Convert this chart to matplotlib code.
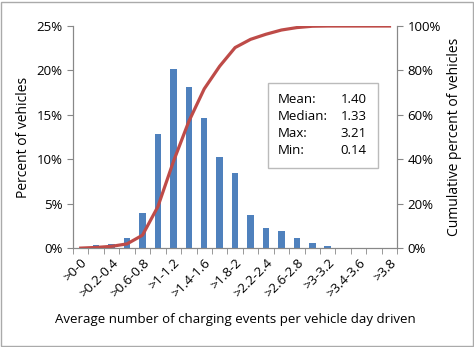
import matplotlib
matplotlib.use('Agg')
from matplotlib import pyplot as plt
from matplotlib.patches import Rectangle
import numpy as np

plt.rcParams['font.family'] = ['Open Sans', 'DejaVu Sans']

categories = ['>0-0', '>0-0.2', '>0.2-0.4', '>0.4-0.6', '>0.6-0.8', '>0.8-1',
              '>1-1.2', '>1.2-1.4', '>1.4-1.6', '>1.6-1.8', '>1.8-2', '>2-2.2',
              '>2.2-2.4', '>2.4-2.6', '>2.6-2.8', '>2.8-3', '>3-3.2',
              '>3.2-3.4', '>3.4-3.6', '>3.6-3.8', '>3.8']
# percent of vehicles per bin
pct_vehicles = [0.0, 0.3, 0.5, 1.1, 3.9, 12.9, 20.2, 18.1, 14.7, 10.2, 8.4,
                3.7, 2.3, 1.9, 1.1, 0.6, 0.2, 0.05, 0.0, 0.0, 0.0]
# cumulative percent of vehicles
cum_pct = [0.0, 0.3, 0.8, 1.9, 5.8, 18.7, 38.9, 57.0, 71.7, 81.9, 90.3,
           94.0, 96.3, 98.2, 99.3, 99.9, 100.0, 100.0, 100.0, 100.0, 100.0]
stats_names = ['Mean:', 'Median:', 'Max:', 'Min:']
stats_values = ['1.40', '1.33', '3.21', '0.14']

fig = plt.figure(figsize=(4.74, 3.47), dpi=100)
ax = fig.add_axes([0.154, 0.285, 0.684, 0.64])
x = np.arange(len(categories))

ax.bar(x, pct_vehicles, width=0.42, color='#4F81BD', zorder=2)
ax.set_xlim(-0.5, len(categories) - 0.5)
ax.set_ylim(0, 25)
ax.set_yticks(np.arange(0, 26, 5))
ax.set_yticklabels(['{}%'.format(v) for v in range(0, 26, 5)])
ax.set_xticks(x[::2])
ax.set_xticklabels(categories[::2], rotation=45, ha='right',
                   rotation_mode='anchor')
ax.set_xticks(np.arange(-0.5, len(categories), 1), minor=True)
ax.tick_params(axis='x', which='major', length=0, labelsize=9.5, pad=6)
ax.tick_params(axis='x', which='minor', length=4, color='#888888')
ax.tick_params(axis='y', labelsize=9.5, length=4, color='#888888')
ax.set_ylabel('Percent of vehicles', fontsize=10)
ax.set_xlabel('Average number of charging events per vehicle day driven',
              fontsize=9.5, labelpad=9)
for s in ax.spines.values():
    s.set_color('#888888')
ax.spines['top'].set_visible(False)

ax2 = ax.twinx()
ax2.plot(x, cum_pct, color='#BE4B48', lw=2.3, zorder=3)
ax2.set_ylim(0, 100)
ax2.set_yticks(np.arange(0, 101, 20))
ax2.set_yticklabels(['{}%'.format(v) for v in range(0, 101, 20)])
ax2.tick_params(axis='y', labelsize=9.5, length=4, color='#888888')
ax2.set_ylabel('Cumulative percent of vehicles', fontsize=10)
for s in ax2.spines.values():
    s.set_color('#888888')
ax2.spines['top'].set_visible(False)

# stats box
ax2.add_patch(Rectangle((0.60, 0.36), 0.34, 0.385, transform=ax2.transAxes,
                        facecolor='white', edgecolor='#BBBBBB', lw=1,
                        zorder=4))
ax2.text(0.63, 0.553, '\n'.join(stats_names), transform=ax2.transAxes,
         va='center', ha='left', fontsize=9.5, linespacing=1.4, zorder=5)
ax2.text(0.905, 0.553, '\n'.join(stats_values), transform=ax2.transAxes,
         va='center', ha='right', fontsize=9.5, linespacing=1.4, zorder=5)

fig.patches.append(Rectangle((0.003, 0.003), 0.994, 0.99,
                             transform=fig.transFigure, fill=False,
                             edgecolor='#AAAAAA', lw=1))
fig.savefig('out.png', dpi=100)
